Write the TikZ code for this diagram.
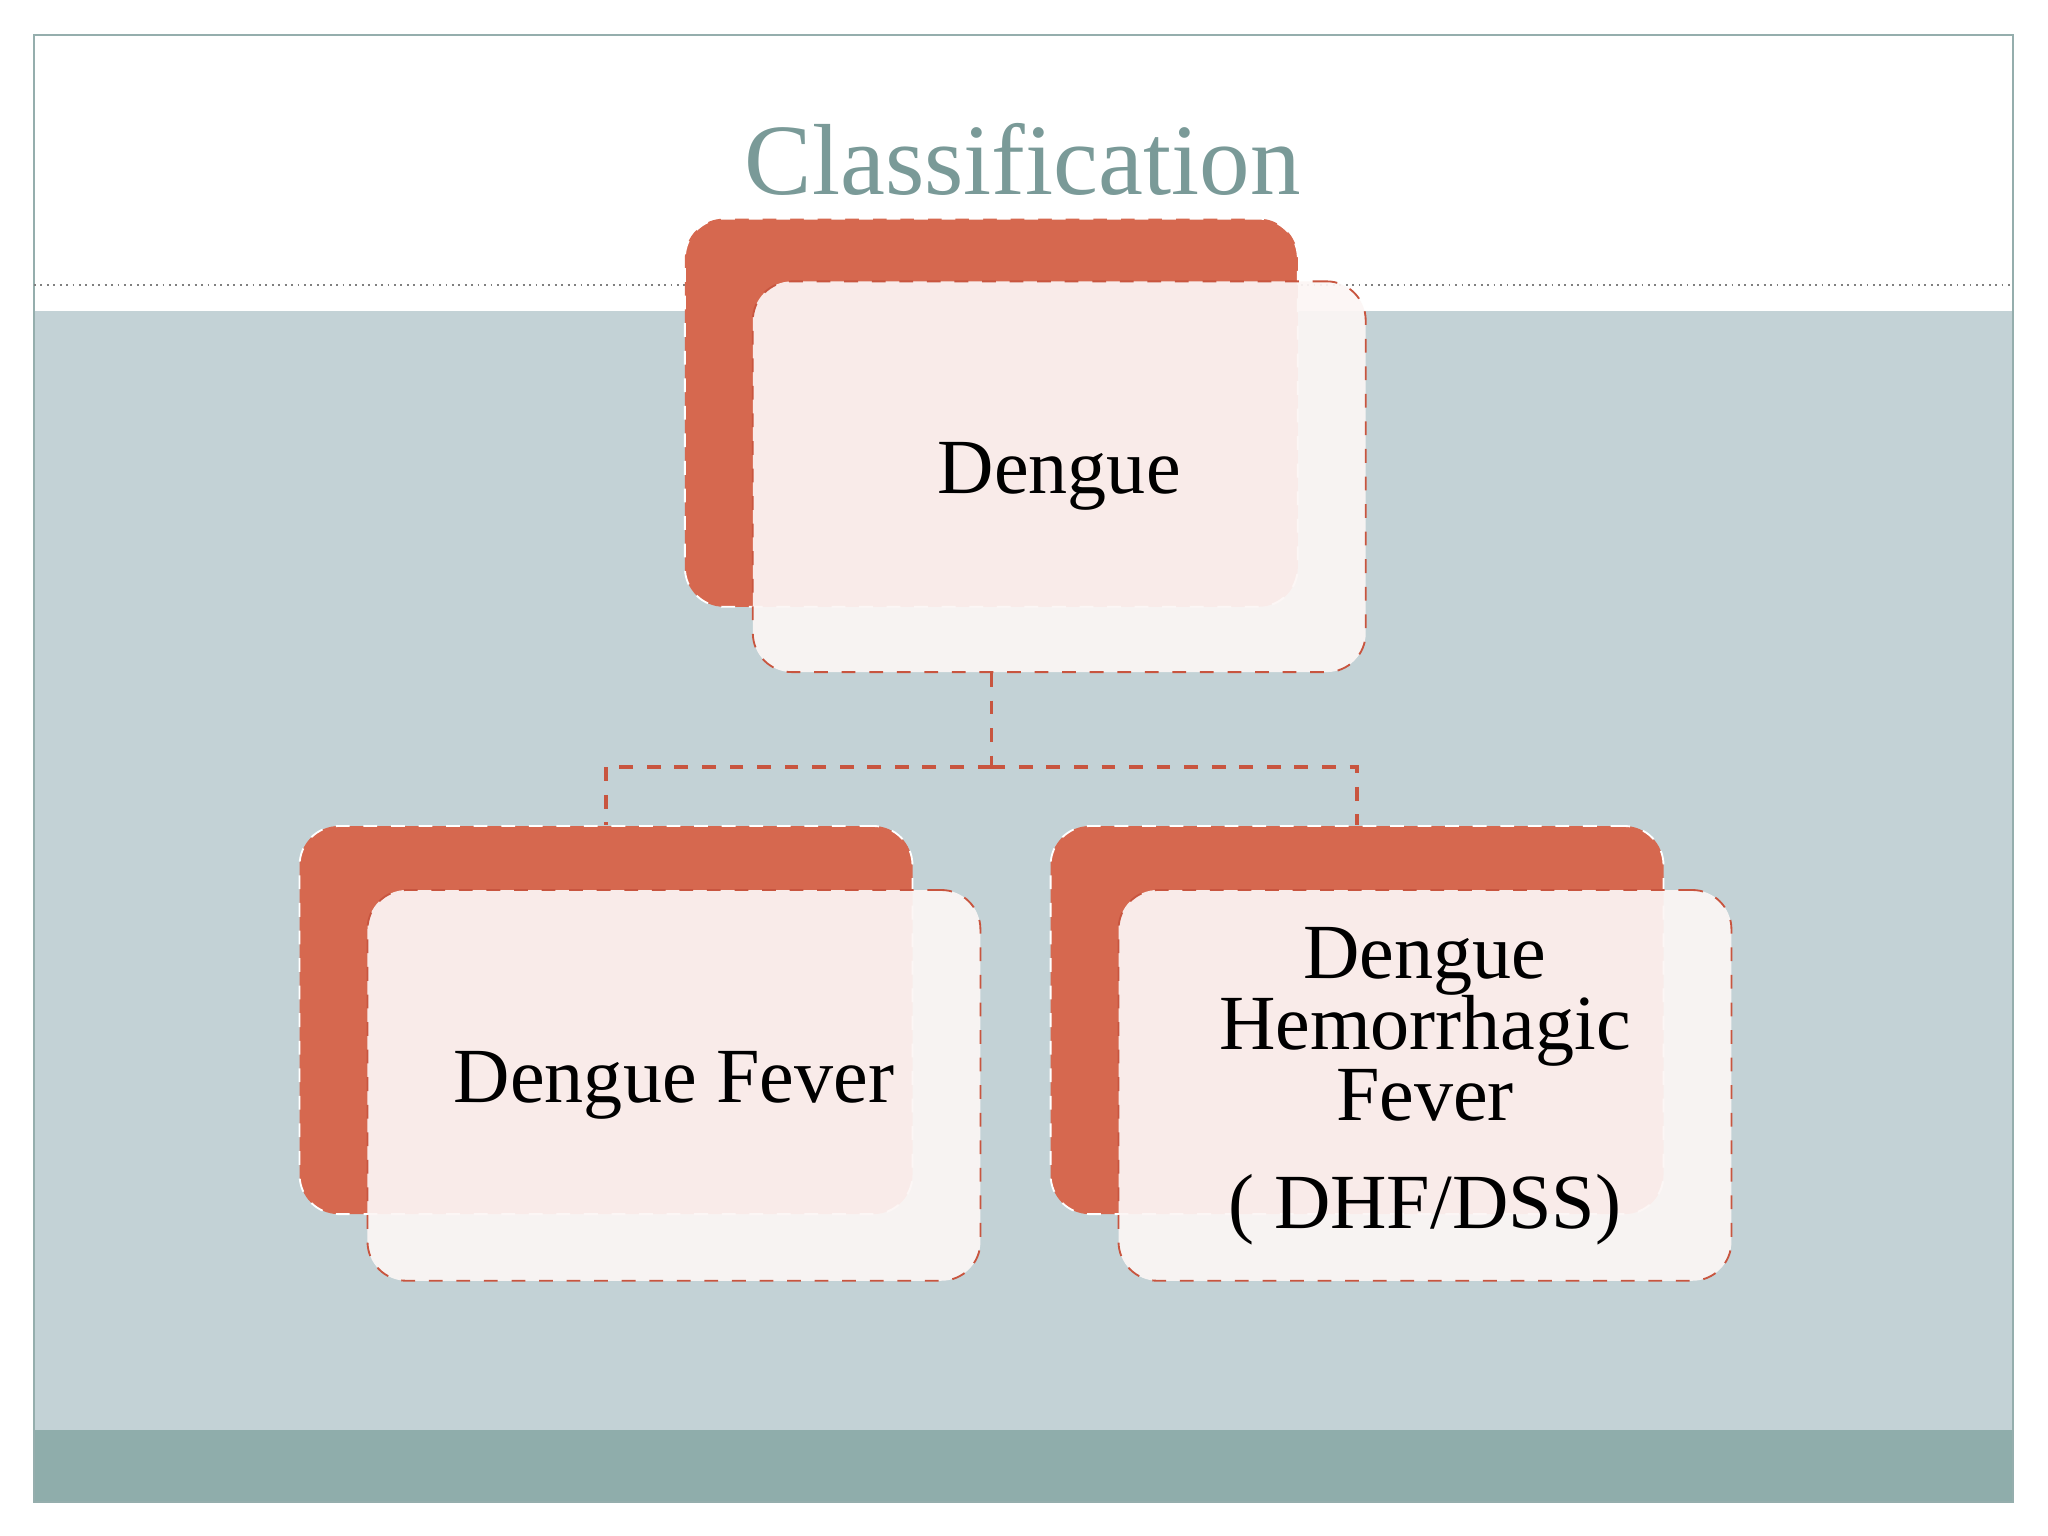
\documentclass[tikz,border=0pt]{standalone}
\usepackage{fontspec}
\setmainfont{Liberation Serif}
\definecolor{bgblue}{HTML}{C3D2D6}
\definecolor{band}{HTML}{8FADAB}
\definecolor{titlec}{HTML}{7A9A98}
\definecolor{orange}{HTML}{D6684F}
\definecolor{pinkf}{HTML}{FCF6F5}
\definecolor{dashc}{HTML}{C8553F}
\begin{document}
\begin{tikzpicture}[x=0.01cm,y=-0.01cm,
 back/.style={draw=white,dashed,fill=orange,rounded corners=0.3cm,minimum width=4.69cm,minimum height=2.97cm,inner sep=0},
 front/.style={draw=dashc,dashed,fill=pinkf,fill opacity=0.93,text opacity=1,rounded corners=0.3cm,minimum width=4.69cm,minimum height=2.99cm,inner sep=0,font=\fontsize{17}{15.5}\selectfont,align=center},
 conn/.style={draw=dashc,dashed,thick}]
\useasboundingbox (0,0) rectangle (1568,1176);
\fill[white] (0,0) rectangle (1568,1176);
\fill[bgblue] (26,238) rectangle (1541,1095);
\fill[band] (26,1095) rectangle (1541,1150);
\draw[titlec!80,thin] (26,27) rectangle (1541,1150);
\draw[gray,densely dotted,thin] (26,218) -- (1541,218);
\node[text=titlec,font=\fontsize{22}{26}\selectfont] (title) at (783,122) {Classification};
\node[back] (tb) at (759,316) {};
\node[back] (lb) at (464,781) {};
\node[back] (rb) at (1039,781) {};
\node[front] (tf) at (811,365) {Dengue};
\node[front] (lf) at (516,831) {Dengue Fever};
\node[front] (rf) at (1091,831) {\\[-4pt]Dengue\\Hemorrhagic\\Fever\\[8pt]( DHF/DSS)};
\coordinate (c0) at (tb.south |- tf.south);
\coordinate (c1) at (759,587);
\draw[conn] (c0) -- (c1);
\draw[conn] (c1) -| (lb.north);
\draw[conn] (c1) -| (rb.north);
\end{tikzpicture}
\end{document}
